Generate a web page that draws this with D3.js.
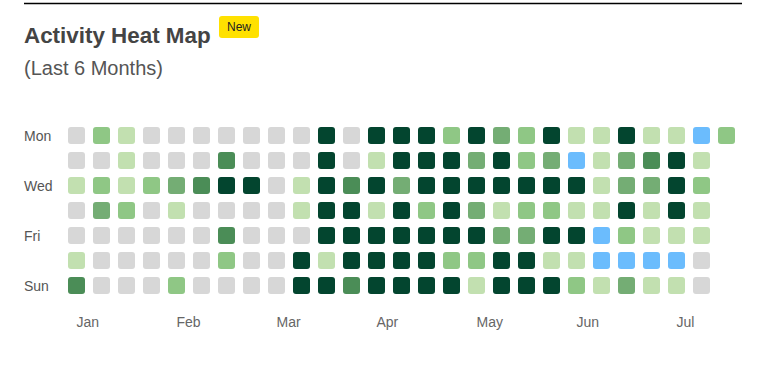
<!DOCTYPE html>
<html>
<head>
<meta charset="utf-8">
<script src="https://cdn.jsdelivr.net/npm/d3@7"></script>
<style>
  html, body { margin: 0; padding: 0; background: #fff; }
  svg { display: block; font-family: "Liberation Sans", Arial, sans-serif; }
</style>
</head>
<body>
<svg id="chart" width="765" height="392"></svg>
<script>
// ---- data ----
const dayLabels = ["Mon", "", "Wed", "", "Fri", "", "Sun"];
const monthLabels = ["Jan", "Feb", "Mar", "Apr", "May", "Jun", "Jul"];
const monthStartWeek = [0, 4, 8, 12, 16, 20, 24];
// activity levels per weekday row (0 = none ... 5 = highest, -1 = off day, null = no date)
const mon = [0,2,1,0,0,0,0,0,0,0,5,0,5,5,5,2,5,3,2,5,1,1,5,1,1,-1,2];
const tue = [0,0,1,0,0,0,4,0,0,0,5,0,1,5,5,5,3,5,2,3,-1,1,3,4,5,1,null];
const wed = [1,2,1,2,3,4,5,5,0,1,5,4,5,3,5,5,5,5,5,5,5,1,3,3,5,2,null];
const thu = [0,3,2,0,1,0,0,0,0,1,5,5,1,5,2,5,3,1,2,2,1,1,5,1,5,1,null];
const fri = [0,0,0,0,0,0,4,0,0,0,5,5,5,5,5,5,5,3,3,5,5,-1,2,1,1,1,null];
const sat = [1,0,0,0,0,0,2,0,0,5,1,5,5,5,5,2,2,5,5,1,1,-1,-1,-1,-1,0,null];
const sun = [4,0,0,0,2,0,0,0,0,5,5,4,5,5,5,5,1,5,5,5,2,1,3,1,1,0,null];
const activity = [mon, tue, wed, thu, fri, sat, sun];
const levelColors = ["#d7d7d7", "#c2e0b0", "#8fc785", "#74ad74", "#4b8d57", "#03452f"];
const offColor = "#6bbcfd";

// ---- drawing ----
const svg = d3.select("#chart");

svg.append("line")
  .attr("x1", 24).attr("x2", 742).attr("y1", 3.5).attr("y2", 3.5)
  .attr("stroke", "#000").attr("stroke-width", 1.3);

svg.append("text")
  .attr("x", 24).attr("y", 43)
  .attr("font-size", 22.4).attr("font-weight", "bold").attr("fill", "#444")
  .text("Activity Heat Map");

svg.append("rect")
  .attr("x", 219).attr("y", 16).attr("width", 40).attr("height", 22)
  .attr("rx", 3).attr("fill", "#ffe100");
svg.append("text")
  .attr("x", 239).attr("y", 31).attr("text-anchor", "middle")
  .attr("font-size", 12).attr("fill", "#222")
  .text("New");

svg.append("text")
  .attr("x", 24).attr("y", 75)
  .attr("font-size", 20).attr("fill", "#555")
  .text("(Last 6 Months)");

const nWeeks = d3.max(activity, r => r.length);
const x = d3.scaleBand()
  .domain(d3.range(nWeeks))
  .range([68, 735])
  .paddingInner(0.32);
const y = d3.scaleBand()
  .domain(d3.range(7))
  .range([127, 294])
  .paddingInner(0.32);

const cells = [];
activity.forEach((row, d) => row.forEach((v, w) => {
  if (v !== null && v !== undefined) cells.push({ d, w, v });
}));

svg.append("g").selectAll("rect")
  .data(cells)
  .join("rect")
  .attr("x", c => x(c.w))
  .attr("y", c => y(c.d))
  .attr("width", x.bandwidth())
  .attr("height", y.bandwidth())
  .attr("rx", 3).attr("ry", 3)
  .attr("fill", c => c.v < 0 ? offColor : levelColors[c.v]);

svg.append("g").selectAll("text")
  .data(dayLabels.map((t, i) => ({ t, i })).filter(o => o.t))
  .join("text")
  .attr("x", 24)
  .attr("y", o => y(o.i) + y.bandwidth() / 2)
  .attr("dy", "0.36em")
  .attr("font-size", 14).attr("fill", "#555")
  .text(o => o.t);

svg.append("g").selectAll("text")
  .data(monthLabels.map((t, i) => ({ t, w: monthStartWeek[i] })))
  .join("text")
  .attr("x", o => x(o.w) + x.bandwidth() / 2)
  .attr("y", 327)
  .attr("font-size", 14).attr("fill", "#666")
  .text(o => o.t);
</script>
</body>
</html>
